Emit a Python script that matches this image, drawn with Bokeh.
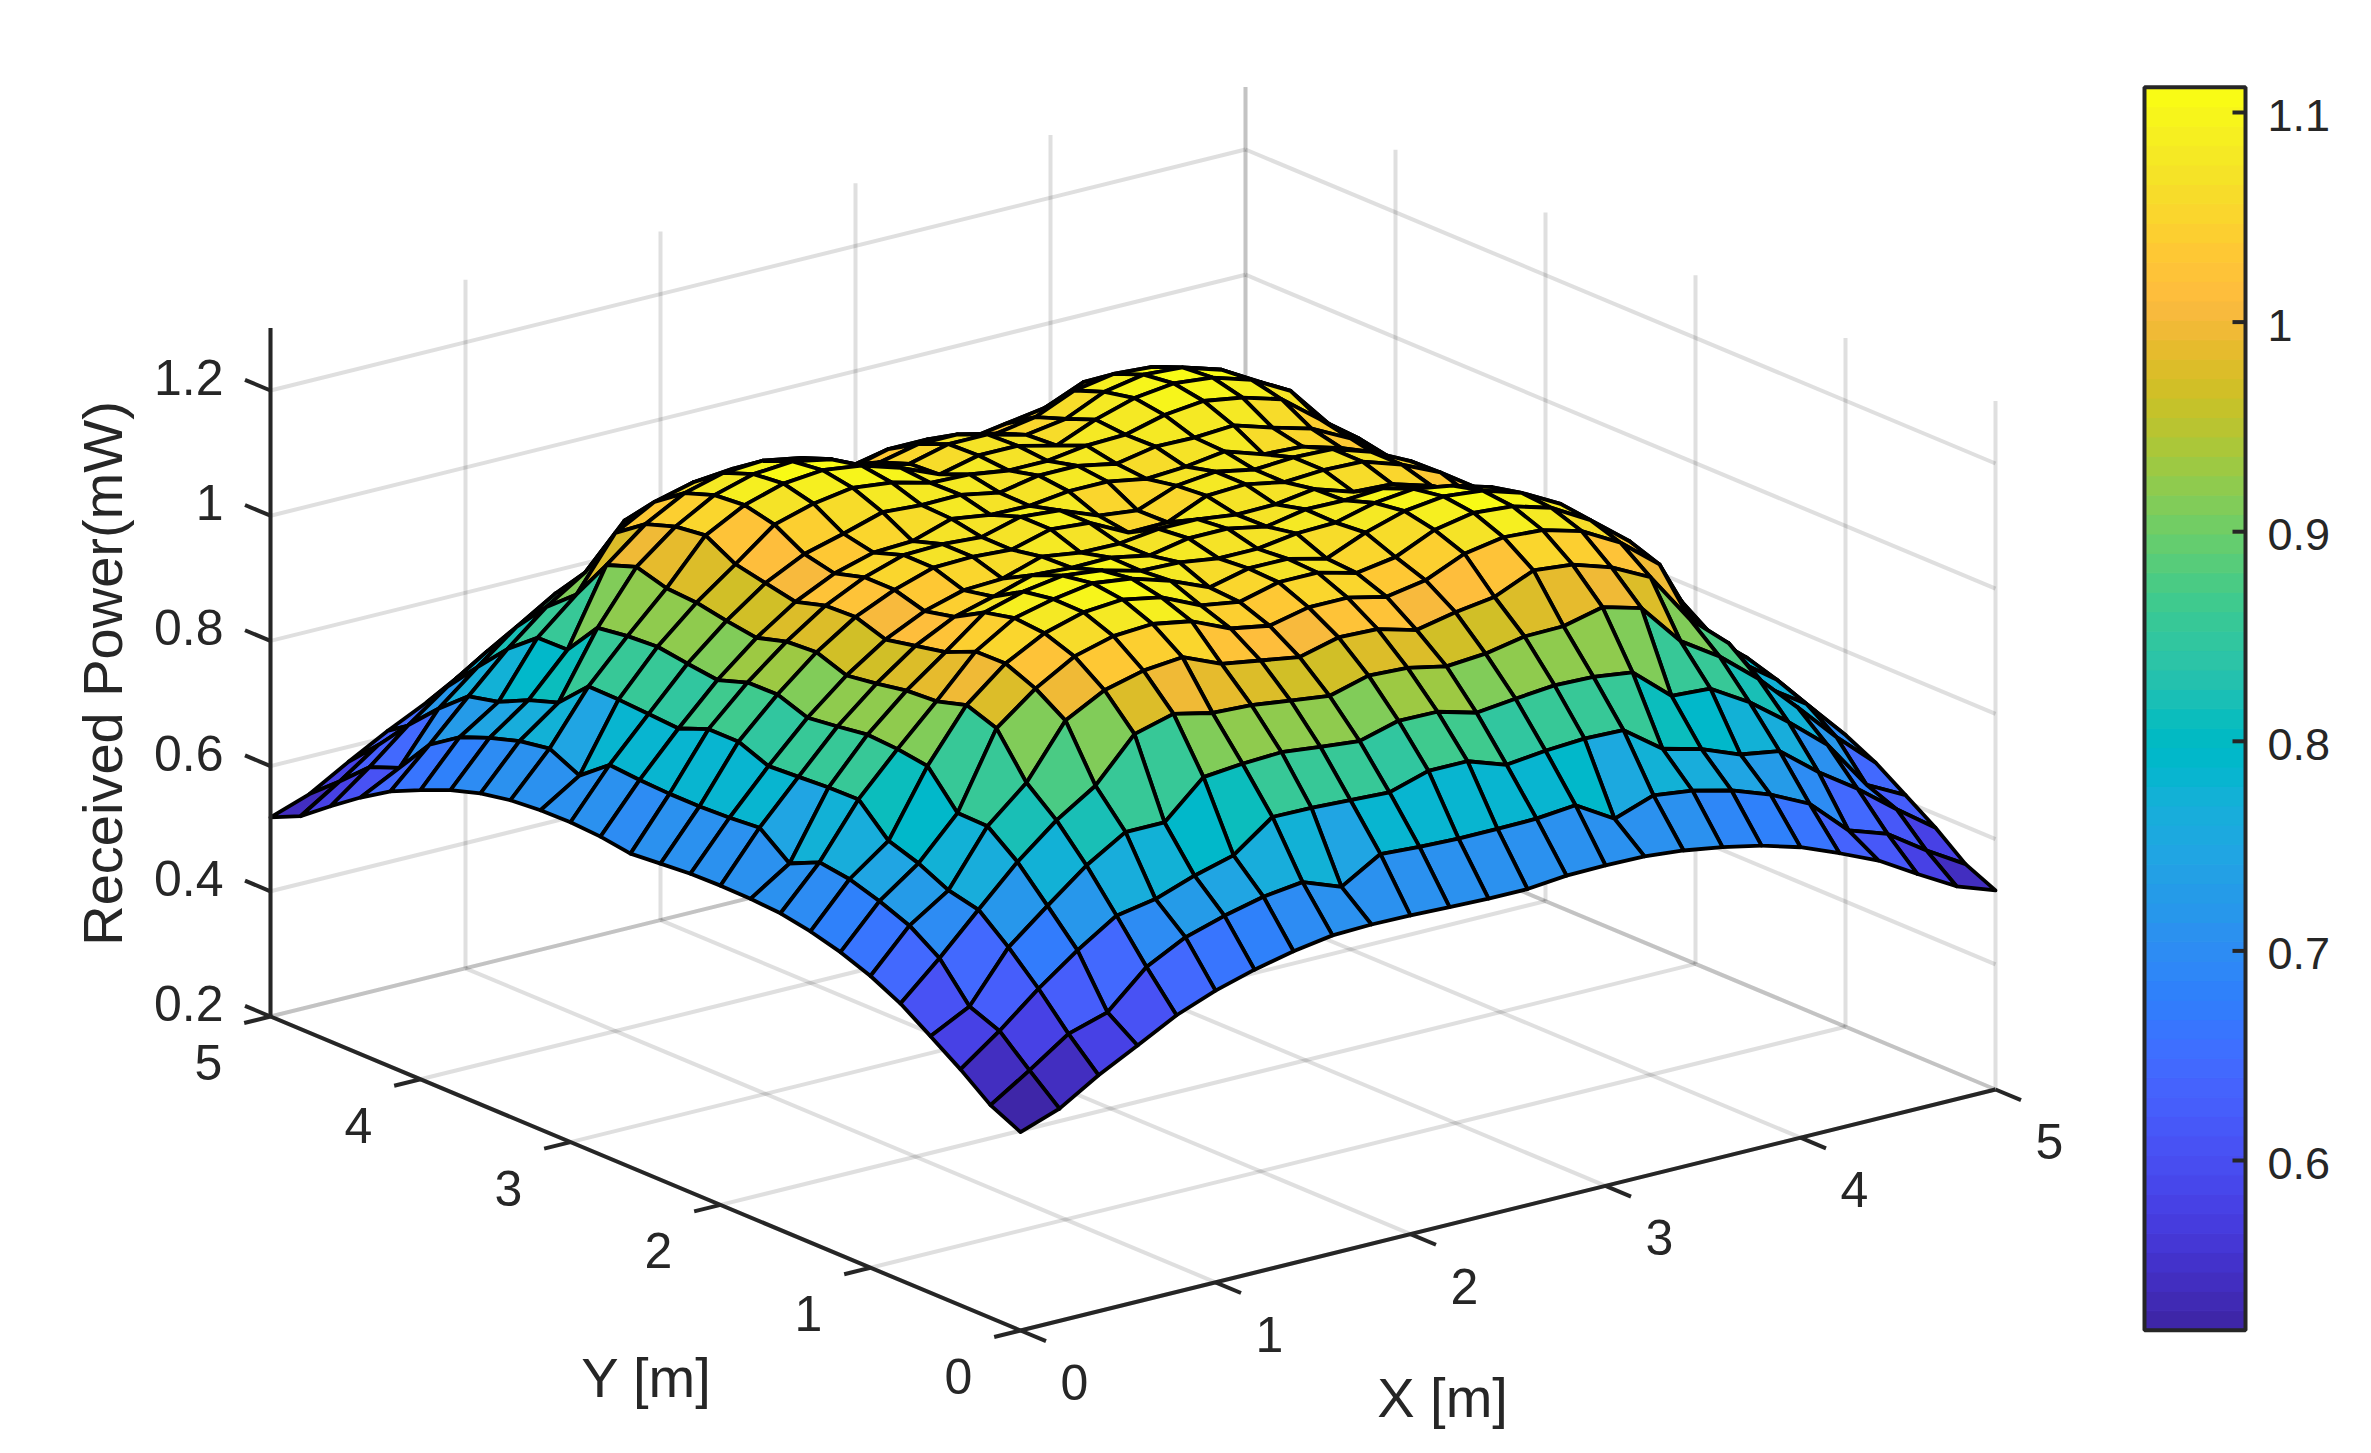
from bokeh.core.properties import value
from bokeh.embed import file_html
from bokeh.models import ColumnDataSource
from bokeh.plotting import figure
from bokeh.resources import INLINE

# room coordinates of the measuring grid [m]
grid_m = [0, 0.2, 0.4, 0.6, 0.8, 1, 1.2, 1.4, 1.6, 1.8, 2, 2.2, 2.4, 2.6, 2.8, 3, 3.2, 3.4, 3.6, 3.8, 4, 4.2, 4.4, 4.6, 4.8, 5]

# received power [mW], one list per y position
row_00 = [.517, .539, .577, .609, .642, .666, .684, .698, .708, .710, .709, .707, .705, .705, .711, .712, .711, .705, .695, .682, .664, .639, .612, .575, .540, .518]
row_01 = [.540, .580, .623, .642, .699, .731, .750, .765, .773, .750, .787, .783, .781, .781, .782, .788, .751, .773, .765, .750, .728, .698, .640, .619, .577, .540]
row_02 = [.577, .623, .675, .721, .761, .772, .794, .811, .857, .856, .853, .850, .869, .869, .848, .855, .859, .857, .812, .796, .772, .762, .713, .671, .623, .578]
row_03 = [.610, .642, .721, .772, .821, .859, .859, .916, .922, .925, .918, .912, .929, .928, .911, .918, .924, .922, .914, .861, .857, .820, .773, .721, .642, .610]
row_04 = [.642, .699, .761, .822, .873, .913, .980, .997, .983, .980, .972, .964, .981, .978, .965, .970, .982, .983, .998, .981, .913, .873, .822, .761, .698, .642]
row_05 = [.666, .731, .772, .859, .913, .997, 1.030, 1.046, 1.052, 1.026, 1.016, 1.006, 1.022, 1.020, 1.003, 1.016, 1.025, 1.052, 1.046, 1.026, .995, .913, .859, .772, .731, .666]
row_06 = [.684, .750, .795, .860, .980, 1.028, 1.064, 1.081, 1.085, 1.074, 1.047, 1.036, 1.050, 1.050, 1.036, 1.047, 1.074, 1.085, 1.081, 1.064, 1.030, .980, .860, .795, .750, .684]
row_07 = [.697, .765, .811, .915, .997, 1.048, 1.081, 1.099, 1.104, 1.092, 1.064, 1.054, 1.070, 1.070, 1.054, 1.064, 1.092, 1.104, 1.099, 1.081, 1.046, .997, .915, .811, .765, .697]
row_08 = [.706, .772, .857, .922, .983, 1.047, 1.085, 1.100, 1.110, 1.102, 1.083, 1.057, 1.072, 1.072, 1.057, 1.083, 1.102, 1.110, 1.104, 1.085, 1.052, .983, .922, .857, .773, .706]
row_09 = [.709, .750, .856, .925, .980, 1.026, 1.074, 1.092, 1.102, 1.095, 1.079, 1.077, 1.068, 1.068, 1.077, 1.079, 1.095, 1.102, 1.092, 1.074, 1.026, .980, .925, .856, .750, .709]
row_10 = [.710, .787, .853, .918, .971, 1.016, 1.047, 1.064, 1.083, 1.079, 1.080, 1.068, 1.080, 1.080, 1.068, 1.080, 1.079, 1.083, 1.064, 1.047, 1.016, .971, .918, .853, .787, .710]
row_11 = [.709, .783, .850, .912, .964, 1.006, 1.036, 1.054, 1.057, 1.077, 1.068, 1.067, 1.075, 1.075, 1.067, 1.068, 1.077, 1.057, 1.054, 1.036, 1.006, .964, .912, .850, .783, .709]
row_12 = [.705, .781, .869, .929, .981, 1.022, 1.050, 1.070, 1.072, 1.068, 1.085, 1.080, 1.049, 1.050, 1.077, 1.080, 1.068, 1.072, 1.070, 1.050, 1.022, .980, .929, .869, .781, .705]
row_13 = [.701, .781, .869, .928, .978, 1.020, 1.050, 1.070, 1.072, 1.068, 1.085, 1.080, 1.056, 1.049, 1.073, 1.080, 1.068, 1.072, 1.070, 1.050, 1.020, .978, .928, .869, .781, .705]
row_14 = [.708, .783, .850, .912, .964, 1.006, 1.036, 1.054, 1.057, 1.077, 1.068, 1.067, 1.075, 1.075, 1.064, 1.068, 1.077, 1.057, 1.054, 1.036, 1.006, .964, .912, .850, .783, .709]
row_15 = [.711, .787, .853, .918, .971, 1.016, 1.047, 1.064, 1.083, 1.079, 1.080, 1.068, 1.080, 1.080, 1.068, 1.080, 1.079, 1.083, 1.064, 1.047, 1.016, .971, .918, .853, .787, .710]
row_16 = [.710, .750, .856, .925, .980, 1.026, 1.074, 1.092, 1.102, 1.095, 1.079, 1.077, 1.068, 1.068, 1.077, 1.079, 1.095, 1.102, 1.092, 1.074, 1.026, .980, .925, .856, .750, .709]
row_17 = [.706, .773, .857, .922, .983, 1.052, 1.085, 1.104, 1.110, 1.102, 1.083, 1.057, 1.072, 1.072, 1.057, 1.083, 1.102, 1.110, 1.104, 1.085, 1.052, .983, .922, .857, .773, .706]
row_18 = [.697, .765, .811, .915, .997, 1.046, 1.081, 1.099, 1.104, 1.092, 1.064, 1.054, 1.070, 1.070, 1.054, 1.064, 1.092, 1.104, 1.100, 1.081, 1.046, .997, .915, .811, .765, .697]
row_19 = [.682, .750, .795, .860, .980, 1.030, 1.064, 1.081, 1.085, 1.074, 1.047, 1.036, 1.050, 1.050, 1.036, 1.047, 1.074, 1.085, 1.081, 1.064, 1.030, .980, .860, .795, .750, .684]
row_20 = [.662, .731, .772, .859, .913, .996, 1.030, 1.046, 1.052, 1.026, 1.016, 1.006, 1.022, 1.022, 1.006, 1.016, 1.026, 1.052, 1.046, 1.030, .996, .913, .859, .772, .731, .666]
row_21 = [.640, .699, .761, .821, .873, .913, .980, .997, .983, .980, .971, .964, .980, .980, .964, .971, .980, .983, .997, .980, .913, .873, .821, .761, .699, .642]
row_22 = [.610, .642, .721, .772, .821, .859, .860, .915, .922, .925, .918, .912, .929, .929, .912, .918, .925, .922, .915, .860, .859, .821, .772, .721, .642, .610]
row_23 = [.576, .623, .675, .721, .761, .772, .795, .811, .857, .856, .853, .850, .869, .869, .850, .853, .856, .857, .811, .795, .772, .761, .721, .675, .623, .577]
row_24 = [.540, .580, .623, .642, .699, .731, .750, .765, .773, .750, .787, .783, .781, .781, .783, .787, .750, .773, .765, .750, .731, .699, .642, .623, .580, .540]
row_25 = [.518, .540, .576, .610, .640, .662, .682, .697, .706, .710, .711, .708, .701, .705, .709, .710, .709, .706, .697, .684, .666, .642, .610, .577, .540, .518]

power = [row_00, row_01, row_02, row_03, row_04, row_05, row_06, row_07, row_08, row_09, row_10, row_11, row_12,
         row_13, row_14, row_15, row_16, row_17, row_18, row_19, row_20, row_21, row_22, row_23, row_24, row_25]

x_ticks = [0, 1, 2, 3, 4, 5]
y_ticks = [0, 1, 2, 3, 4, 5]
z_ticks = [0.2, 0.4, 0.6, 0.8, 1, 1.2]
z_tick_labels = ["0.2", "0.4", "0.6", "0.8", "1", "1.2"]
cb_ticks = [0.6, 0.7, 0.8, 0.9, 1, 1.1]
cb_tick_labels = ["0.6", "0.7", "0.8", "0.9", "1", "1.1"]
z_low, z_high = 0.2, 1.3
c_low, c_high = 0.519, 1.112

# parula
parula = [
    (.2422, .1504, .6603), (.2504, .1650, .7076), (.2578, .1818, .7511), (.2647, .1978, .7952),
    (.2706, .2147, .8364), (.2751, .2342, .8710), (.2783, .2559, .8991), (.2803, .2782, .9221),
    (.2813, .3006, .9414), (.2810, .3228, .9579), (.2795, .3447, .9717), (.2760, .3667, .9829),
    (.2699, .3892, .9906), (.2602, .4123, .9952), (.2440, .4358, .9988), (.2206, .4603, .9973),
    (.1963, .4847, .9892), (.1834, .5074, .9798), (.1786, .5289, .9682), (.1764, .5499, .9520),
    (.1687, .5703, .9359), (.1540, .5902, .9218), (.1460, .6091, .9079), (.1380, .6276, .8973),
    (.1248, .6459, .8883), (.1113, .6635, .8763), (.0952, .6798, .8598), (.0689, .6948, .8394),
    (.0297, .7082, .8163), (.0036, .7203, .7917), (.0067, .7312, .7660), (.0433, .7411, .7394),
    (.0964, .7500, .7120), (.1408, .7584, .6842), (.1717, .7670, .6554), (.1938, .7758, .6251),
    (.2161, .7843, .5923), (.2470, .7918, .5567), (.2906, .7973, .5188), (.3406, .8008, .4789),
    (.3909, .8029, .4354), (.4456, .8024, .3909), (.5044, .7993, .3480), (.5616, .7942, .3045),
    (.6174, .7876, .2612), (.6720, .7793, .2227), (.7242, .7698, .1910), (.7738, .7598, .1646),
    (.8203, .7498, .1535), (.8634, .7406, .1596), (.9035, .7330, .1774), (.9393, .7288, .2100),
    (.9728, .7298, .2394), (.9956, .7434, .2371), (.9970, .7659, .2199), (.9952, .7861, .2040),
    (.9892, .8136, .1885), (.9786, .8386, .1766), (.9676, .8639, .1643), (.9610, .8890, .1537),
    (.9597, .9135, .1423), (.9628, .9373, .1265), (.9691, .9606, .1064), (.9769, .9839, .0805),
]
palette = ["#%02x%02x%02x" % tuple(int(round(c * 255)) for c in rgb) for rgb in parula]

INK = "#262626"
FONT = value("Liberation Sans")


# fixed 3D view: orthographic, page pixels with y going down
def project(x, y, z):
    return 1020 + 195 * x - 150 * y, 1330 - 48.2 * x - 62.8 * y - 626 * (z - z_low)


def colour(val):
    k = int((val - c_low) / (c_high - c_low) * len(palette))
    return palette[max(0, min(len(palette) - 1, k))]


p = figure(width=2355, height=1436, x_range=(0, 2355), y_range=(1436, 0),
           output_backend="svg", toolbar_location=None, min_border=0)
p.xaxis.visible = False
p.yaxis.visible = False
p.grid.visible = False
p.outline_line_color = None

# grid on floor and the two back walls
gx0, gy0, gx1, gy1 = [], [], [], []


def grid_line(a, b):
    pa, pb = project(*a), project(*b)
    gx0.append(pa[0])
    gy0.append(pa[1])
    gx1.append(pb[0])
    gy1.append(pb[1])


for t in x_ticks:
    grid_line((t, 0, z_low), (t, 5, z_low))
    grid_line((t, 5, z_low), (t, 5, z_high))
for t in y_ticks:
    grid_line((0, t, z_low), (5, t, z_low))
    grid_line((5, t, z_low), (5, t, z_high))
for t in z_ticks:
    grid_line((0, 5, t), (5, 5, t))
    grid_line((5, 5, t), (5, 0, t))
p.segment(gx0, gy0, gx1, gy1, line_color=INK, line_alpha=0.15, line_width=4)

# surface, back cells first so the front ones cover them
n = len(grid_m)
xs, ys, fills = [], [], []
for j in range(n - 2, -1, -1):
    for i in range(n - 2, -1, -1):
        corners = [(i, j), (i + 1, j), (i + 1, j + 1), (i, j + 1)]
        pts = [project(grid_m[a], grid_m[b], power[b][a]) for a, b in corners]
        xs.append([q[0] for q in pts])
        ys.append([q[1] for q in pts])
        fills.append(colour(power[j][i]))
p.patches("xs", "ys", source=ColumnDataSource(dict(xs=xs, ys=ys, fill=fills)),
          fill_color="fill", line_color="black", line_width=3.8, line_join="round")

# axis lines and ticks
ax0, ay0, ax1, ay1 = [], [], [], []


def axis_line(a, b):
    pa, pb = project(*a), project(*b)
    ax0.append(pa[0])
    ay0.append(pa[1])
    ax1.append(pb[0])
    ay1.append(pb[1])


axis_line((0, 0, z_low), (5, 0, z_low))
axis_line((0, 0, z_low), (0, 5, z_low))
axis_line((0, 5, z_low), (0, 5, z_high))
for t in x_ticks:
    axis_line((t, 0, z_low), (t, -0.17, z_low))
for t in y_ticks:
    axis_line((0, t, z_low), (-0.135, t, z_low))
for t in z_ticks:
    axis_line((0, 5, t), (0, 5.17, t))
p.segment(ax0, ay0, ax1, ay1, line_color=INK, line_width=4)

# tick labels
tx = [project(t, 0, z_low)[0] + 54 for t in x_ticks]
ty = [project(t, 0, z_low)[1] + 52 for t in x_ticks]
p.text(tx, ty, text=[str(t) for t in x_ticks], text_font=FONT, text_font_size="50px", text_color=INK,
       text_align="center", text_baseline="middle")
tx = [project(0, t, z_low)[0] - 62 for t in y_ticks]
ty = [project(0, t, z_low)[1] + 46 for t in y_ticks]
p.text(tx, ty, text=[str(t) for t in y_ticks], text_font=FONT, text_font_size="50px", text_color=INK,
       text_align="center", text_baseline="middle")
tx = [project(0, 5, t)[0] - 47 for t in z_ticks]
ty = [project(0, 5, t)[1] - 13 for t in z_ticks]
p.text(tx, ty, text=z_tick_labels, text_font=FONT, text_font_size="50px", text_color=INK,
       text_align="right", text_baseline="middle")

# axis titles
p.text([1442], [1397], text=["X [m]"], text_font=FONT, text_font_size="56px", text_color=INK,
       text_align="center", text_baseline="middle")
p.text([646], [1377], text=["Y [m]"], text_font=FONT, text_font_size="56px", text_color=INK,
       text_align="center", text_baseline="middle")
p.text([102], [673], text=["Received Power(mW)"], text_font=FONT, text_font_size="56px", text_color=INK,
       text_align="center", text_baseline="middle", angle=1.5708)


# colorbar
def cb_y(v):
    return 1160 - (v - 0.6) * 2096


m = len(palette)
steps = [c_low + (c_high - c_low) * k / m for k in range(m + 1)]
p.quad(left=2144, right=2245, top=[cb_y(v) for v in steps[1:]], bottom=[cb_y(v) for v in steps[:-1]],
       fill_color=palette, line_color=palette, line_width=1)
p.quad(left=[2144], right=[2245], top=[cb_y(c_high)], bottom=[cb_y(c_low)],
       fill_color=None, line_color=INK, line_width=4)
p.segment([2232] * len(cb_ticks), [cb_y(v) for v in cb_ticks], [2245] * len(cb_ticks), [cb_y(v) for v in cb_ticks],
          line_color=INK, line_width=4)
p.text([2267] * len(cb_ticks), [cb_y(v) + 3 for v in cb_ticks], text=cb_tick_labels, text_font=FONT,
       text_font_size="45px", text_color=INK, text_align="left", text_baseline="middle")

open("out.html", "w").write(file_html(p, INLINE))
